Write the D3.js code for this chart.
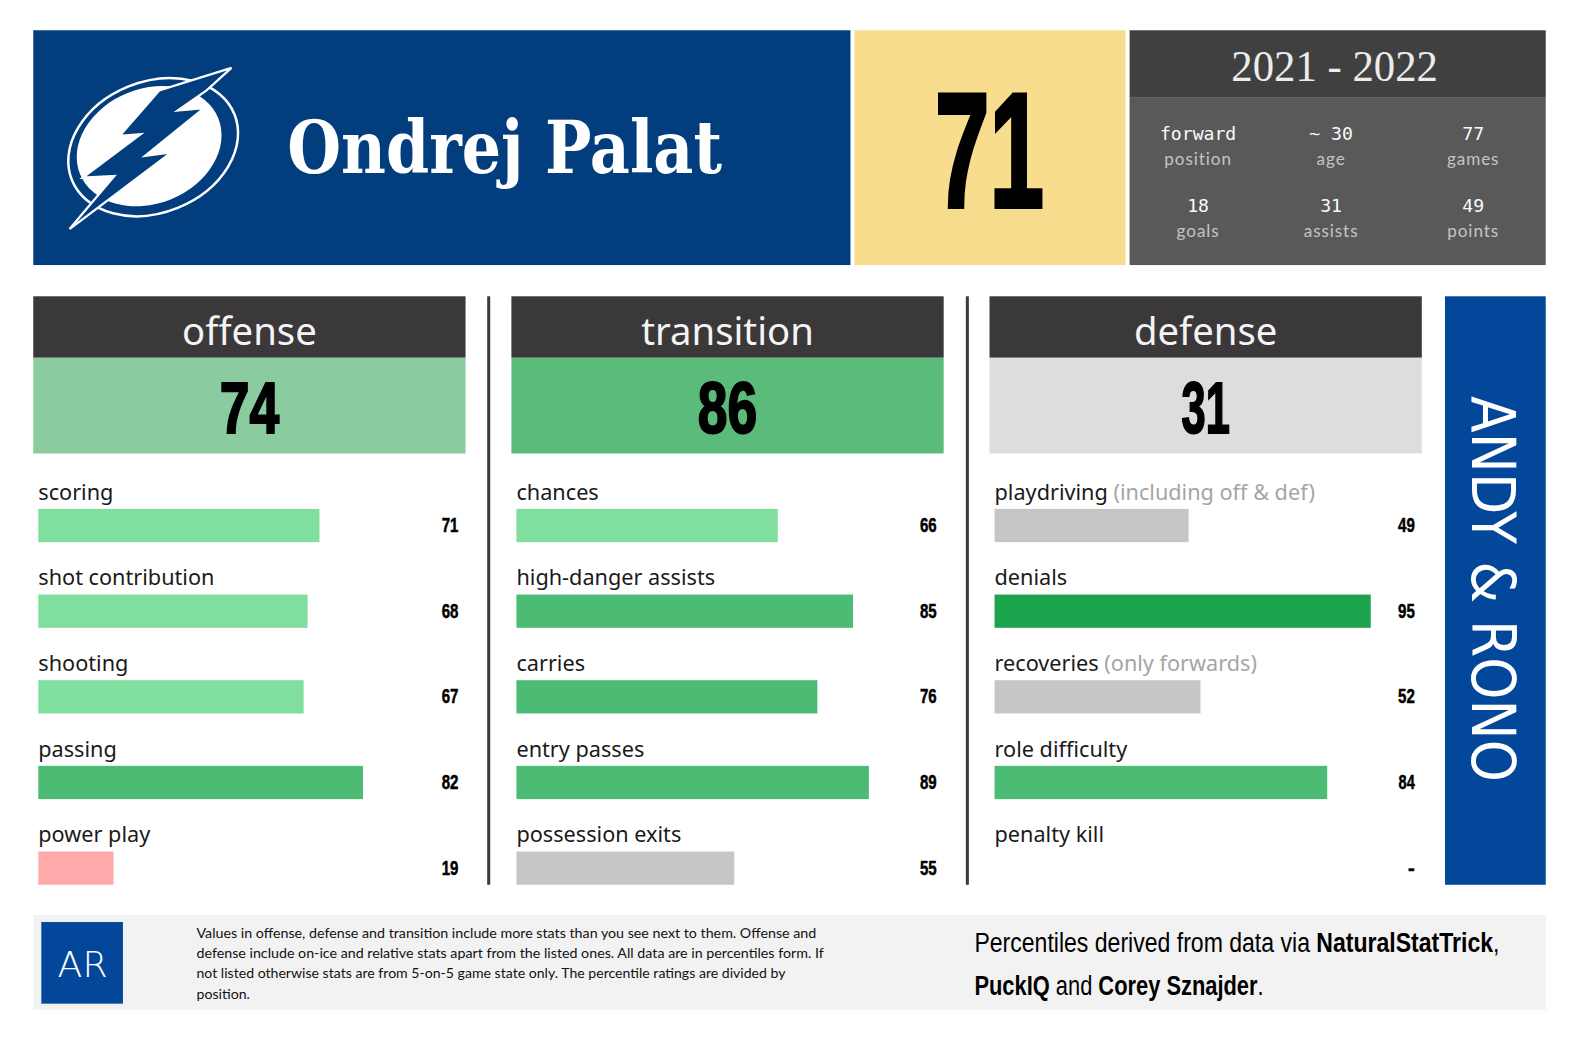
<!DOCTYPE html>
<html>
<head>
<meta charset="utf-8">
<script src="https://cdn.jsdelivr.net/npm/d3@7"></script>
<style>
  html, body { margin: 0; padding: 0; background: #ffffff; }
  svg { display: block; }
</style>
</head>
<body>
<div id="chart"></div>
<script>
// ---------- data ----------
const playerName = "Ondrej Palat";
const overallRating = 71;
const season = "2021 - 2022";
const infoValues = ["forward", "~ 30", "77", "18", "31", "49"];
const infoLabels = ["position", "age", "games", "goals", "assists", "points"];

const sectionNames = ["offense", "transition", "defense"];
const sectionScores = [74, 86, 31];

const offenseCats = ["scoring", "shot contribution", "shooting", "passing", "power play"];
const offenseNotes = ["", "", "", "", ""];
const offenseVals = [71, 68, 67, 82, 19];

const transitionCats = ["chances", "high-danger assists", "carries", "entry passes", "possession exits"];
const transitionNotes = ["", "", "", "", ""];
const transitionVals = [66, 85, 76, 89, 55];

const defenseCats = ["playdriving", "denials", "recoveries", "role difficulty", "penalty kill"];
const defenseNotes = ["(including off & def)", "", "(only forwards)", "", ""];
const defenseVals = [49, 95, 52, 84, null];

const footnoteLines = [
  "Values in offense, defense and transition include more stats than you see next to them. Offense and",
  "defense include on-ice and relative stats apart from the listed ones. All data are in percentiles form. If",
  "not listed otherwise stats are from 5-on-5 game state only. The percentile ratings are divided by",
  "position."
];
const sideLabel = "ANDY & RONO";

// ---------- drawing ----------
const W = 1568, H = 1034;
const svg = d3.select("#chart").append("svg")
  .attr("width", 1580).attr("height", 1042)
  .attr("viewBox", `0 0 ${W} ${H}`);

const BLUE = "#023e7d", SIDEBLUE = "#03479b";
const CONDENSED = "'Liberation Sans', Arial, sans-serif";

// squeeze a text horizontally to a target width, pivoting on its x anchor
function fitWidth(sel, target) {
  const node = sel.node();
  const w = node.getBBox().width;
  if (!w) return;
  const s = target / w;
  const x = +sel.attr("x");
  sel.attr("transform", `translate(${x},0) scale(${s},1) translate(${-x},0)`);
}

// Header: blue name panel
svg.append("rect").attr("x", 33).attr("y", 30).attr("width", 811).attr("height", 233).attr("fill", BLUE);

// Lightning logo
const logo = svg.append("g");
logo.append("ellipse").attr("cx", 152).attr("cy", 146).attr("rx", 87).attr("ry", 65)
  .attr("transform", "rotate(-22,152,146)")
  .attr("fill", "none").attr("stroke", "#fff").attr("stroke-width", 2.5);
logo.append("ellipse").attr("cx", 148).attr("cy", 145).attr("rx", 74).attr("ry", 57)
  .attr("transform", "rotate(-22,148,145)")
  .attr("fill", "#fff");
const bolt = [[229.7,67.3],[205,89.7],[176.3,109.7],[202.5,107.3],[143.9,154.7],[170,151.3],
              [69,227.3],[113.5,174.7],[82.2,176.3],[139.7,133],[118.8,134.7],[158,89.7]];
logo.append("path").attr("d", d3.line()(bolt) + "Z")
  .attr("fill", BLUE).attr("stroke", "#fff").attr("stroke-width", 2.2).attr("stroke-linejoin", "miter");

const nameText = svg.append("text").attr("x", 285).attr("y", 172)
  .attr("font-family", "DejaVu Serif").attr("font-weight", "bold").attr("font-size", 72)
  .attr("fill", "#fff")
  .text(playerName);
fitWidth(nameText, 432);

// Overall rating panel
svg.append("rect").attr("x", 848).attr("y", 30).attr("width", 269).attr("height", 233).attr("fill", "#f8dd8f");
const ovr = svg.append("text").attr("x", 928).attr("y", 205)
  .attr("font-family", CONDENSED).attr("font-weight", "bold").attr("font-size", 162)
  .attr("fill", "#000").attr("stroke", "#000").attr("stroke-width", 4)
  .text(overallRating);
fitWidth(ovr, 108);

// Season panel
svg.append("rect").attr("x", 1121).attr("y", 30).attr("width", 413).attr("height", 67).attr("fill", "#404040");
svg.append("rect").attr("x", 1121).attr("y", 97).attr("width", 413).attr("height", 166).attr("fill", "#595959");
const seasonText = svg.append("text").attr("x", 1222).attr("y", 80)
  .attr("font-family", "Liberation Serif").attr("font-size", 45).attr("fill", "#ececec")
  .text(season);
fitWidth(seasonText, 205);

const colX = d3.scalePoint().domain([0, 1, 2]).range([1189, 1462]);
const rowY = d3.scalePoint().domain([0, 1]).range([139, 210]);
infoValues.forEach((v, i) => {
  const c = i % 3, r = Math.floor(i / 3);
  const cx = c === 1 ? 1321 : colX(c);
  svg.append("text").attr("x", cx).attr("y", rowY(r)).attr("text-anchor", "middle")
    .attr("font-family", "DejaVu Sans Mono").attr("font-size", 18).attr("fill", "#fafafa")
    .text(v);
  svg.append("text").attr("x", cx).attr("y", rowY(r) + 25).attr("text-anchor", "middle")
    .attr("font-family", "Lato").attr("font-size", 17).attr("letter-spacing", 0.9).attr("fill", "#c4c4c4")
    .text(infoLabels[i]);
});

// Sections
const secX = d3.scalePoint().domain(sectionNames).range([33, 982]);
const SEC_W = 429;
const barScale = d3.scaleLinear().domain([0, 100]).range([0, 393]);
const rowTop = d3.scalePoint().domain(d3.range(5)).range([505, 845]);
const barColor = d3.scaleThreshold().domain([40, 60, 75, 90])
  .range(["#ffaaaa", "#c6c6c6", "#80de9e", "#4cbb73", "#1ba44b"]);
const boxColor = d3.scaleThreshold().domain([60, 75, 90])
  .range(["#dddddd", "#8acc9f", "#5bbb7b", "#2e9e57"]);

const sectionData = [
  { cats: offenseCats, notes: offenseNotes, vals: offenseVals },
  { cats: transitionCats, notes: transitionNotes, vals: transitionVals },
  { cats: defenseCats, notes: defenseNotes, vals: defenseVals }
];

sectionNames.forEach((name, si) => {
  const x0 = secX(name);
  const g = svg.append("g");
  g.append("rect").attr("x", x0).attr("y", 294).attr("width", SEC_W).attr("height", 61).attr("fill", "#3a3839");
  g.append("text").attr("x", x0 + SEC_W / 2).attr("y", 342).attr("text-anchor", "middle")
    .attr("font-family", "Noto Sans").attr("font-size", 38).attr("fill", "#f4f4f4").text(name);
  g.append("rect").attr("x", x0).attr("y", 355).attr("width", SEC_W).attr("height", 95)
    .attr("fill", boxColor(sectionScores[si]));
  const sc = g.append("text").attr("x", x0 + SEC_W / 2).attr("y", 430).attr("text-anchor", "middle")
    .attr("font-family", CONDENSED).attr("font-weight", "bold").attr("font-size", 72)
    .attr("fill", "#000").attr("stroke", "#000").attr("stroke-width", 2)
    .text(sectionScores[si]);
  fitWidth(sc, String(sectionScores[si]) === "31" ? 48 : 59);

  const d = sectionData[si];
  d.cats.forEach((cat, i) => {
    const top = rowTop(i);
    const t = g.append("text").attr("x", x0 + 5).attr("y", top - 9)
      .attr("font-family", "Noto Sans").attr("font-size", 21.5).attr("fill", "#1a1a1a");
    t.append("tspan").text(cat);
    if (d.notes[i]) t.append("tspan").attr("fill", "#a5a5a5").text(" " + d.notes[i]);
    const v = d.vals[i];
    if (v != null) {
      g.append("rect").attr("x", x0 + 5).attr("y", top).attr("width", barScale(v)).attr("height", 33)
        .attr("fill", barColor(v));
    }
    const vt = g.append("text").attr("x", x0 + 422).attr("y", top + 23).attr("text-anchor", "end")
      .attr("font-family", CONDENSED).attr("font-weight", "bold").attr("font-size", 20)
      .attr("fill", "#000").attr("stroke", "#000").attr("stroke-width", 0.5)
      .text(v == null ? "-" : v);
    if (v != null) fitWidth(vt, String(v).length * 8.3);
  });
});

// Separators
[485, 960].forEach(x => {
  svg.append("rect").attr("x", x - 1.5).attr("y", 294).attr("width", 3).attr("height", 584).attr("fill", "#3b3b3b");
});

// Side label
svg.append("rect").attr("x", 1434).attr("y", 294).attr("width", 100).attr("height", 584).attr("fill", SIDEBLUE);
svg.append("text").attr("transform", "translate(1461,393) rotate(90)")
  .attr("font-family", "DejaVu Sans").attr("font-size", 60).attr("fill", "#fff")
  .attr("textLength", 383).attr("lengthAdjust", "spacingAndGlyphs")
  .text(sideLabel);

// Footer
svg.append("rect").attr("x", 33).attr("y", 908).attr("width", 1501).attr("height", 94).attr("fill", "#f2f2f2");
svg.append("rect").attr("x", 41).attr("y", 915).attr("width", 81).attr("height", 81).attr("fill", SIDEBLUE);
svg.append("text").attr("x", 82).attr("y", 970).attr("text-anchor", "middle")
  .attr("font-family", "DejaVu Sans").attr("font-weight", 200).attr("font-size", 36).attr("fill", "#fff")
  .text("AR");

const fnLen = [615, 623, 585, 53];
footnoteLines.forEach((line, i) => {
  const t = svg.append("text").attr("x", 195).attr("y", 931 + i * 20)
    .attr("font-family", "Lato").attr("font-size", 12.5).attr("fill", "#111").text(line);
  fitWidth(t, fnLen[i]);
});

const cred1 = svg.append("text").attr("x", 967).attr("y", 945)
  .attr("font-family", CONDENSED).attr("font-size", 27).attr("fill", "#000");
cred1.append("tspan").text("Percentiles derived from data via ");
cred1.append("tspan").attr("font-weight", "bold").text("NaturalStatTrick");
cred1.append("tspan").text(",");
fitWidth(cred1, 521);
const cred2 = svg.append("text").attr("x", 967).attr("y", 987)
  .attr("font-family", CONDENSED).attr("font-size", 27).attr("fill", "#000");
cred2.append("tspan").attr("font-weight", "bold").text("PuckIQ");
cred2.append("tspan").text(" and ");
cred2.append("tspan").attr("font-weight", "bold").text("Corey Sznajder");
cred2.append("tspan").text(".");
fitWidth(cred2, 287);
</script>
</body>
</html>
